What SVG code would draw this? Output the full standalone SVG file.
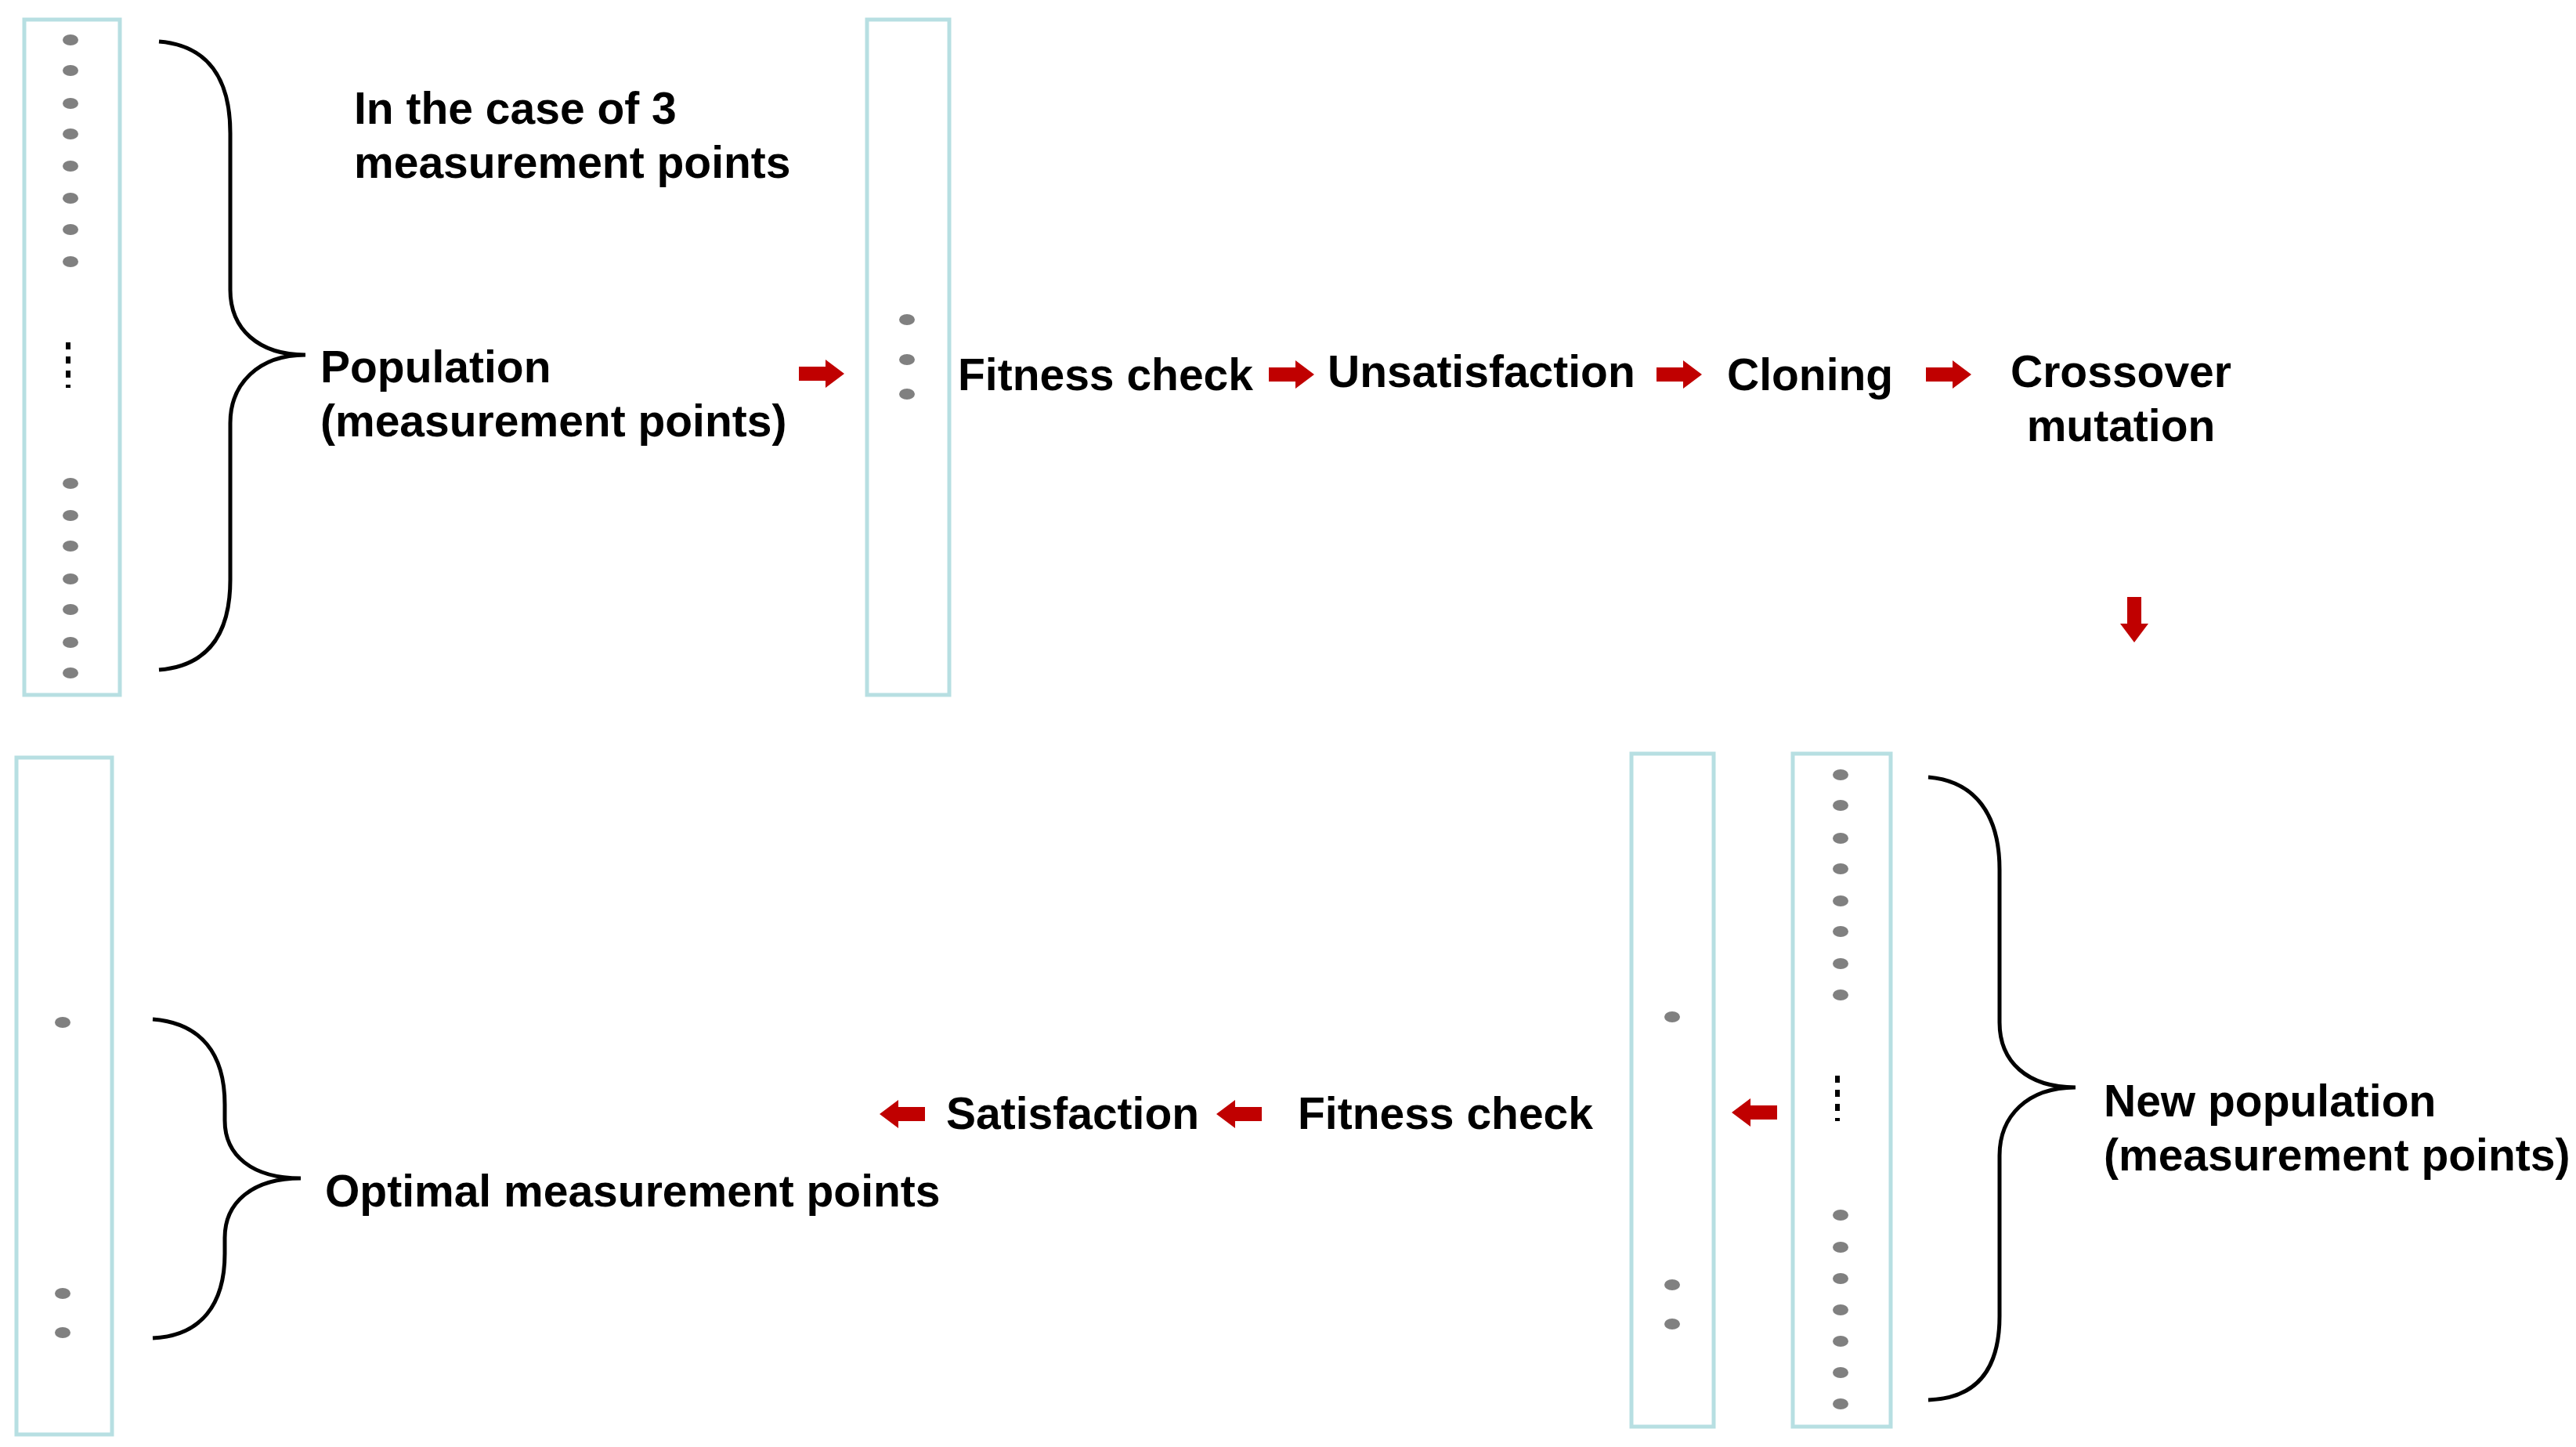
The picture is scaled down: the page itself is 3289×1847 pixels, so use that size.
<svg xmlns="http://www.w3.org/2000/svg" xmlns:xlink="http://www.w3.org/1999/xlink" width="3289" height="1847" viewBox="0 0 3289 1847">
<style>
.box{fill:none;stroke:#b7dfe2;stroke-width:5}
.dot{fill:#808080}
.br{fill:none;stroke:#000;stroke-width:5}
.t{font-family:"Liberation Sans",Arial,sans-serif;font-weight:bold;font-size:57px;fill:#000}
.ell{stroke:#000;stroke-width:6;stroke-dasharray:9 9}
</style>
<defs>
<path id="arr" d="M0 -9 H34 V-18 L58 0 L34 18 V9 H0 Z" fill="#c00000"/>
<ellipse id="d" rx="10" ry="7" class="dot"/>
</defs>
<rect width="3289" height="1847" fill="#fff"/>
<g id="population">
<rect class="box" x="31" y="25" width="122" height="862"/>
<use href="#d" x="90" y="51"/><use href="#d" x="90" y="90"/><use href="#d" x="90" y="132"/><use href="#d" x="90" y="171"/><use href="#d" x="90" y="212"/><use href="#d" x="90" y="253"/><use href="#d" x="90" y="293"/><use href="#d" x="90" y="334"/>
<use href="#d" x="90" y="617"/><use href="#d" x="90" y="658"/><use href="#d" x="90" y="697"/><use href="#d" x="90" y="739"/><use href="#d" x="90" y="778"/><use href="#d" x="90" y="820"/><use href="#d" x="90" y="859"/>
<line class="ell" x1="87" y1="437" x2="87" y2="495"/>
<path class="br" d="M203 53 C265 58 294 100 294 170 L294 370 C294 420 330 453 390 453 C330 453 294 490 294 540 L294 740 C294 810 265 850 203 855"/>
<text class="t" x="452" y="158">In the case of 3</text>
<text class="t" x="452" y="227">measurement points</text>
<text class="t" x="409" y="488">Population</text>
<text class="t" x="409" y="557">(measurement points)</text>
</g>
<g id="selected1">
<rect class="box" x="1107" y="25" width="105" height="862"/>
<use href="#d" x="1158" y="408"/><use href="#d" x="1158" y="459"/><use href="#d" x="1158" y="503"/>
</g>
<g id="fitness1"><text class="t" x="1223" y="498">Fitness check</text></g>
<g id="unsat"><text class="t" x="1695" y="494">Unsatisfaction</text></g>
<g id="cloning"><text class="t" x="2205" y="498">Cloning</text></g>
<g id="crossover"><text class="t" x="2708" y="494" text-anchor="middle">Crossover</text><text class="t" x="2708" y="563" text-anchor="middle">mutation</text></g>
<g id="optimal">
<rect class="box" x="21" y="967" width="122" height="864"/>
<use href="#d" x="80" y="1305"/><use href="#d" x="80" y="1651"/><use href="#d" x="80" y="1701"/>
<path class="br" d="M195 1301 C257 1306 287 1345 287 1410 L287 1430 C287 1475 322 1504 384 1504 C322 1504 287 1535 287 1580 L287 1600 C287 1665 257 1705 195 1708"/>
<text class="t" x="415" y="1540">Optimal measurement points</text>
</g>
<g id="satisfaction"><text class="t" x="1208" y="1441">Satisfaction</text></g>
<g id="fitness2"><text class="t" x="1657" y="1441">Fitness check</text></g>
<g id="selected2">
<rect class="box" x="2083" y="962" width="105" height="859"/>
<use href="#d" x="2135" y="1298"/><use href="#d" x="2135" y="1640"/><use href="#d" x="2135" y="1690"/>
</g>
<g id="newpop">
<rect class="box" x="2289" y="962" width="125" height="859"/>
<use href="#d" x="2350" y="989"/><use href="#d" x="2350" y="1028"/><use href="#d" x="2350" y="1070"/><use href="#d" x="2350" y="1109"/><use href="#d" x="2350" y="1150"/><use href="#d" x="2350" y="1189"/><use href="#d" x="2350" y="1230"/><use href="#d" x="2350" y="1270"/>
<use href="#d" x="2350" y="1551"/><use href="#d" x="2350" y="1592"/><use href="#d" x="2350" y="1632"/><use href="#d" x="2350" y="1672"/><use href="#d" x="2350" y="1712"/><use href="#d" x="2350" y="1752"/><use href="#d" x="2350" y="1792"/>
<line class="ell" x1="2346" y1="1373" x2="2346" y2="1431"/>
<path class="br" d="M2462 992 C2522 997 2553 1040 2553 1110 L2553 1305 C2553 1355 2588 1388 2650 1388 C2588 1388 2553 1425 2553 1475 L2553 1680 C2553 1750 2522 1785 2462 1787"/>
<text class="t" x="2686" y="1425">New population</text>
<text class="t" x="2686" y="1494" font-size="56">(measurement points)</text>
</g>
<g id="connectors">
<use href="#arr" transform="translate(1020 477)"/>
<use href="#arr" transform="translate(1620 478)"/>
<use href="#arr" transform="translate(2115 478)"/>
<use href="#arr" transform="translate(2459 478)"/>
<use href="#arr" transform="translate(2725 762) rotate(90)"/>
<use href="#arr" transform="translate(2269 1420) rotate(180)"/>
<use href="#arr" transform="translate(1611 1422) rotate(180)"/>
<use href="#arr" transform="translate(1181 1422) rotate(180)"/>
</g>
</svg>
